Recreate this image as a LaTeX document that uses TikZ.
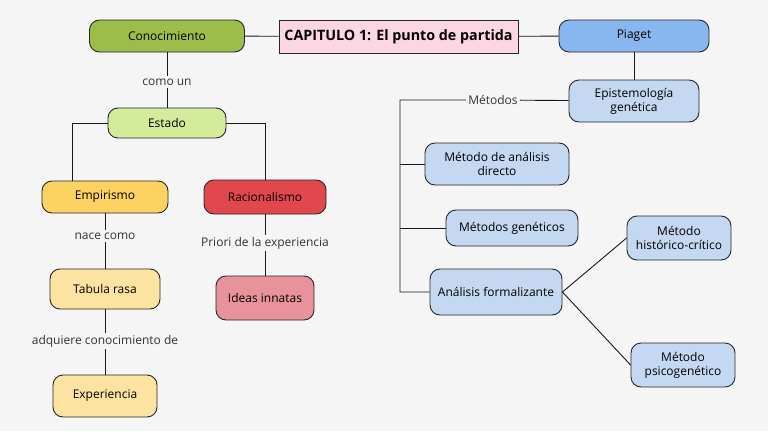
\documentclass[tikz,border=0pt]{standalone}
\usepackage{fontspec}
\setmainfont{Open Sans}
\begin{document}
\begin{tikzpicture}[x=1pt,y=-1pt,
  box/.style={draw=black!85,line width=0.9pt,rounded corners=10pt,align=center,font=\fontsize{12}{14}\selectfont,inner sep=1pt},
  lbl/.style={fill=none,font=\fontsize{12}{14}\selectfont,text=black!80,inner sep=2pt},
  ln/.style={draw=black!90,line width=0.9pt}]
\fill[gray!8] (0,0) rectangle (768,431);
\useasboundingbox (0,0) rectangle (768,431);
\definecolor{cg}{HTML}{9CBD4A}\definecolor{cl}{HTML}{D5EB9C}
\definecolor{cy}{HTML}{FCD261}\definecolor{cly}{HTML}{FDE3A2}
\definecolor{cr}{HTML}{E0484E}\definecolor{cp}{HTML}{E8939B}
\definecolor{cb}{HTML}{88B6EF}\definecolor{clb}{HTML}{C4D8F2}
\definecolor{pk}{HTML}{FCD6E2}
\node[box,fill=cg,minimum width=155pt,minimum height=32pt] (con) at (167,36) {Conocimiento};
\node[draw=black!85,line width=0.9pt,fill=pk,minimum width=239pt,minimum height=33pt,font=\bfseries\fontsize{14.3}{16}\selectfont] (cap) at (398.5,36.5) {CAPITULO 1: El punto de partida};
\node[box,fill=cb,minimum width=150pt,minimum height=32pt] (pia) at (634,36) {Piaget};
\node[lbl] (como) at (167,82) {como un};
\node[box,fill=cl,minimum width=118pt,minimum height=30pt] (est) at (167,123) {Estado};
\node[box,fill=cy,minimum width=126pt,minimum height=32pt] (emp) at (105,197) {Empirismo};
\node[box,fill=cr,minimum width=122pt,minimum height=34pt] (rac) at (265,197) {Racionalismo};
\node[lbl] (nace) at (105,236) {nace como};
\node[lbl] (pri) at (265,243) {Priori de la experiencia};
\node[box,fill=cly,minimum width=110pt,minimum height=40pt] (tab) at (105,289) {Tabula rasa};
\node[box,fill=cp,minimum width=98pt,minimum height=44pt] (ide) at (265,298) {Ideas innatas};
\node[lbl] (adq) at (105,341) {adquiere conocimiento de};
\node[box,fill=cly,minimum width=104pt,minimum height=42pt] (exp) at (105,396) {Experiencia};
\node[box,fill=clb,minimum width=130pt,minimum height=42pt] (epi) at (634,101) {Epistemología\\genética};
\node[lbl] (met) at (493,100) {Métodos};
\node[box,fill=clb,minimum width=144pt,minimum height=42pt] (mad) at (497,164) {Método de análisis\\directo};
\node[box,fill=clb,minimum width=132pt,minimum height=36pt] (mge) at (512,228) {Métodos genéticos};
\node[box,fill=clb,minimum width=132pt,minimum height=46pt] (afo) at (496,292) {Análisis formalizante};
\node[box,fill=clb,minimum width=104pt,minimum height=44pt] (mhc) at (679,238) {Método\\histórico-crítico};
\node[box,fill=clb,minimum width=104pt,minimum height=44pt] (mps) at (683,365) {Método\\psicogenético};
\coordinate (br) at (400,100);
\draw[ln] (con) -- (cap); \draw[ln] (cap) -- (pia); \draw[ln] (pia) -- (epi);
\draw[ln] (con) -- (como) -- (est);
\draw[ln] (est.west) -| (emp.north -| 72,0);
\draw[ln] (est.east) -| (rac.north);
\draw[ln] (emp) -- (nace) -- (tab) -- (adq) -- (exp);
\draw[ln] (rac) -- (pri) -- (ide);
\draw[ln] (epi) -- (met) -- (br) |- (afo.west);
\draw[ln] (br |- mad) -- (mad); \draw[ln] (br |- mge) -- (mge);
\draw[ln] (afo.east) -- (mhc.west); \draw[ln] (afo.east) -- (mps.west);
\end{tikzpicture}
\end{document}
